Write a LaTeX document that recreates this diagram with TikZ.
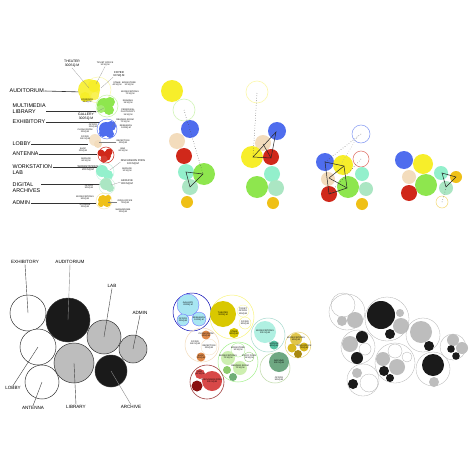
\documentclass[tikz,border=0pt]{standalone}
\usepackage{fontspec}
\setmainfont{Liberation Sans}
\usetikzlibrary{positioning}
\definecolor{cyel}{HTML}{F7EE2A}
\definecolor{cgrn}{HTML}{8EE64E}
\definecolor{cblu}{HTML}{4F6DEE}
\definecolor{cpch}{HTML}{F3DCBC}
\definecolor{cred}{HTML}{D0281A}
\definecolor{cmnt}{HTML}{93F0CC}
\definecolor{clmn}{HTML}{ABE6C3}
\definecolor{corg}{HTML}{EFC016}
\definecolor{ccyan}{HTML}{A8E6F2}
\definecolor{colive}{HTML}{D9C800}
\definecolor{corange}{HTML}{E08A4A}
\definecolor{caqua}{HTML}{B0F0E2}
\definecolor{cteal}{HTML}{58C4A4}
\definecolor{clgrn}{HTML}{CDEFB0}
\definecolor{cmgrn}{HTML}{8CCB6A}
\definecolor{cdgrn}{HTML}{4E9A55}
\definecolor{carch}{HTML}{6FA882}
\definecolor{cmust}{HTML}{D8B820}
\definecolor{cdmust}{HTML}{A88810}
\definecolor{cdisc}{HTML}{D84848}
\definecolor{cdred}{HTML}{8A1010}
\definecolor{cgray}{HTML}{BDBDBD}
\definecolor{cblack}{HTML}{1A1A1A}
\def\bubble[#1](#2)(#3){\fill[#1] (#2) circle (#3pt);}% [fill] (centre) (radius)
\def\ring[#1](#2)(#3){\draw[#1] (#2) circle (#3pt);}% [draw] (centre) (radius)

\begin{document}
\begin{tikzpicture}[x=1pt,y=-1pt,line width=0.4pt,
  biglab/.style={font=\fontsize{5.4}{6}\selectfont,align=left,inner sep=0.5pt},
  midlab/.style={font=\fontsize{3.4}{3.8}\selectfont,align=center,inner sep=0.3pt},
  tinylab/.style={font=\fontsize{2.2}{2.5}\selectfont,align=center,inner sep=0.2pt},
  leader/.style={line width=0.6pt,black!80},
  thinlead/.style={line width=0.15pt,black!50},
  link/.style={line width=0.5pt,black!85},
  dots/.style={line width=0.5pt,dotted,black!70},
  bwring/.style={line width=0.3pt,black!30},
  bwcirc/.style={circle,inner sep=0pt,draw=black!80,line width=0.5pt}]
\useasboundingbox[fill=white] (0,0) rectangle (474,471);

% ---------- programme list
\node[biglab,anchor=west] (audl) at (9,91) {AUDITORIUM};
\node[biglab,anchor=west] (mmel) at (12,109) {MULTIMEDIA\\LIBRARY};
\node[biglab,anchor=west] (exhl) at (12,122) {EXHIBITORY};
\node[biglab,anchor=west] (lobl) at (12,144) {LOBBY};
\node[biglab,anchor=west] (antl) at (12,154) {ANTENNA};
\node[biglab,anchor=west] (wsl) at (12,170) {WORKSTATION\\LAB};
\node[biglab,anchor=west] (digl) at (12,188) {DIGITAL\\ARCHIVES};
\node[biglab,anchor=west] (adml) at (12,203) {ADMIN};
\coordinate (audp) at (83,92);
\coordinate (mmep) at (96,111);
\coordinate (exhp) at (100,122);
\coordinate (lobp) at (88,144);
\coordinate (antp) at (97,154);
\coordinate (wsp) at (100,167);
\coordinate (digp) at (100,184);
\coordinate (admp) at (96,203);
\draw[leader] (audl.east) -- (audp);
\draw[leader] (mmel.east |- mmep) -- (mmep);
\draw[leader] (exhl.east) -- (exhp);
\draw[leader] (lobl.east) -- (lobp);
\draw[leader] (antl.east) -- (antp);
\draw[leader] ([yshift=3pt]wsl.east) -- (wsp);
\draw[leader] ([yshift=4pt]digl.east) -- (digp);
\draw[leader] (adml.east) -- (admp);

% blobs
\ring[cyel!40,line width=0.5pt](98,90)(13)
\bubble[cyel!90](89,90)(11)
\bubble[cyel](94,86)(6)
\bubble[cyel](85,97)(5)
\bubble[cyel!80](95,96)(4)
\ring[cgrn!50,line width=0.5pt](107,106)(11)
\bubble[cgrn](104,105)(7)
\bubble[cgrn](110,102)(5)
\bubble[cgrn](109,110)(5)
\bubble[cgrn!80](101,109)(4)
\ring[cblu,line width=0.4pt](107,129)(10)
\bubble[cblu](106,129)(7)
\bubble[cblu](111,126)(5)
\bubble[cblu](103,133)(4)
\bubble[cblu](110,134)(4)
\bubble[cpch!80](95,140)(6)
\bubble[cpch](98,144)(4)
\ring[cred,line width=0.5pt](106,155)(8)
\bubble[cred](106,156)(5)
\bubble[cred](101,153)(3.5)
\bubble[cred](109,152)(3.5)
\bubble[cred!90](104,159)(3.5)
\ring[cmnt!60,line width=0.4pt](105,172)(9)
\bubble[cmnt](102,171)(6)
\bubble[cmnt](108,175)(5)
\ring[clmn!60,line width=0.4pt](107,186)(8)
\bubble[clmn](106,184)(6)
\bubble[clmn](110,188)(4)
\ring[corg!40,line width=0.4pt](104,201)(8)
\bubble[corg](103,200)(5)
\bubble[corg](107,203)(4)
\bubble[corg](101,204)(3)
\bubble[corg](108,198)(3)

% area labels
\node[midlab] (theat) at (72,64) {THEATER\\300SQ.M};
\node[midlab] (gall) at (86,117) {GALLERY\\300SQ.M};
\node[tinylab] (tick) at (105,64) {TICKET OFFICE\\10 SQ.M};
\node[tinylab,font=\fontsize{2.8}{3.1}\selectfont] (foy) at (119,74) {FOYER\\90 SQ.M};
\node[tinylab] (stag) at (117,84) {STAGE\\40 SQ.M};
\node[tinylab] (book) at (129,84) {BOOKSTORE\\10 SQ.M};
\node[tinylab] (wsa) at (130,93) {WORKSTATIONS\\70 SQ.M};
\node[tinylab] (corr) at (87,101) {CORRIDOR\\30 SQ.M};
\node[tinylab] (read) at (128,102) {READING\\15 SQ.M};
\node[tinylab] (peri) at (128,112) {PERIODICAL\\PHOTOCOPY\\15 SQ.M};
\node[tinylab] (offa) at (93,126) {OFFICE\\20SQ.M};
\node[tinylab] (rroom) at (125,121) {READING ROOM\\70 SQ.M};
\node[tinylab] (rese) at (126,127) {RESEARCH\\100SQ.M};
\node[tinylab] (cloak) at (85,131) {CLOAK ROOM\\20SQ.M};
\node[tinylab] (foyb) at (85,138) {FOYER\\160 SQ.M};
\node[tinylab] (shop) at (83,150) {SHOP\\20SQ.M};
\node[tinylab] (recp) at (123,142) {RECEPTION\\20SQ.M};
\node[tinylab] (bar) at (123,150) {BAR\\80 SQ.M};
\node[tinylab] (serva) at (86,160) {SERVICE\\80 SQ.M};
\node[tinylab,font=\fontsize{2.6}{2.9}\selectfont] (wsb) at (88,168) {WORKSTATIONS\\200 SQ.M};
\node[tinylab,font=\fontsize{2.6}{2.9}\selectfont] (disc) at (133,162) {DISCUSSION PODS\\100 SQ.M};
\node[tinylab] (servb) at (127,170) {SERVICE\\10 SQ.M};
\node[tinylab,font=\fontsize{2.6}{2.9}\selectfont] (arch) at (127,182) {ARCHIVE\\300 SQ.M};
\node[tinylab] (offb) at (89,187) {OFFICE\\50SQ.M};
\node[tinylab] (wsc) at (85,198) {WORKSTATIONS\\50SQ.M};
\node[tinylab] (stor) at (85,206) {STORAGE\\20SQ.M};
\node[tinylab] (open) at (125,202) {OPEN OFFICE\\70SQ.M};
\node[tinylab] (wash) at (123,211) {WASHROOMS\\20SQ.M};
\draw[thinlead] (theat.south) -- (89,88);
\draw[thinlead] (tick.south) -- (96,84);
\draw[thinlead] (foy.south west) -- (101,88);
\draw[thinlead] (gall.north east) -- (104,108);
\draw[thinlead] (rroom.west) -- (112,127);
\draw[thinlead] (recp.west) -- (99,142);
\draw[thinlead] (disc.west) -- (110,170);
\draw[thinlead] (arch.west) -- (111,185);
\draw[thinlead] (open.west) -- (108,202);

% ---------- adjacency study 1
\bubble[cyel](172,91)(11)
\ring[cgrn!40,line width=0.6pt](184,110)(11)
\bubble[cblu](190,129)(9)
\bubble[cpch](177,141)(8)
\bubble[cred](184,156)(8)
\bubble[cmnt](186,172)(8)
\bubble[cgrn](204,174)(11)
\bubble[clmn](190,187)(8)
\bubble[corg](187,202)(6)
\draw[dots] (184,110) -- (203,174);
\draw[link] (186,172) -- (203,174) -- (190,187) -- cycle;

% ---------- adjacency study 2
\ring[cyel!40,line width=0.6pt](257,92)(11)
\bubble[cblu](277,131)(9)
\bubble[cpch](263,143)(8)
\bubble[cyel](252,157)(11)
\bubble[cred](271,157)(8)
\bubble[cmnt](272,174)(8)
\bubble[cgrn](257,187)(11)
\bubble[clmn](276,188)(8)
\bubble[corg](273,203)(6)
\draw[dots] (257,93) -- (253,157);
\draw[link] (253,157) -- (276,132) -- (271,158) -- cycle;
\draw[link] (263,144) -- (271,158);

% ---------- adjacency study 3
\ring[cblu!70,line width=0.5pt](361,134)(9)
\ring[cred!70,line width=0.5pt](361,159)(8)
\bubble[cblu](325,162)(9)
\bubble[cyel](343,165)(10)
\bubble[cpch](328,179)(7)
\bubble[cmnt](362,174)(7)
\bubble[cgrn](348,187)(11)
\bubble[clmn](366,189)(7)
\bubble[cred](329,194)(8)
\bubble[corg](362,204)(6)
\draw[dots] (361,134) -- (325,162);
\draw[dots] (361,159) -- (330,193);
\draw[dots,black!35] (358,136) -- (340,166);
\draw[link] (325,162) -- (344,166) -- (347,188) -- (329,194) -- cycle;
\draw[link] (329,178) -- (344,166);
\draw[link] (329,178) -- (347,188);

% ---------- adjacency study 4
\bubble[cblu](404,160)(9)
\bubble[cyel](423,164)(10)
\bubble[cpch](409,177)(7)
\bubble[cmnt](441,173)(7)
\bubble[corg](456,177)(6)
\bubble[cgrn](426,185)(11)
\bubble[clmn](446,188)(7)
\bubble[cred](409,193)(8)
\ring[corg!60,line width=0.5pt](442,202)(6)
\draw[dots] (442,202) -- (446,188);
\draw[link] (442,173) -- (456,177) -- (446,187) -- cycle;

% ---------- bubble diagram
\node[bwcirc,minimum size=36pt,fill=white] (exh) at (28,313) {};
\node[bwcirc,minimum size=44pt,fill=cblack] (aud) at (68,320) {};
\node[bwcirc,minimum size=36pt,fill=white] (lob) at (38,347) {};
\node[bwcirc,minimum size=40pt,fill=cgray] (lib) at (74,363) {};
\node[bwcirc,minimum size=34pt,fill=cgray] (lab) at (104,337) {};
\node[bwcirc,minimum size=28pt,fill=cgray] (adm) at (133,349) {};
\node[bwcirc,minimum size=32pt,fill=cblack] (arc) at (111,371) {};
\node[bwcirc,minimum size=34pt,fill=white] (ant) at (42,382) {};
\node[biglab,font=\fontsize{4.6}{5}\selectfont] (exht) at (25,262) {EXHIBITORY};
\node[biglab,font=\fontsize{4.6}{5}\selectfont] (audt) at (70,262) {AUDITORIUM};
\node[biglab,font=\fontsize{4.6}{5}\selectfont] (labt) at (112,286) {LAB};
\node[biglab,font=\fontsize{4.6}{5}\selectfont] (admt) at (140,313) {ADMIN};
\node[biglab,font=\fontsize{4.6}{5}\selectfont] (lobt) at (13,388) {LOBBY};
\node[biglab,font=\fontsize{4.6}{5}\selectfont] (antt) at (33,408) {ANTENNA};
\node[biglab,font=\fontsize{4.6}{5}\selectfont] (libt) at (76,407) {LIBRARY};
\node[biglab,font=\fontsize{4.6}{5}\selectfont] (arct) at (131,407) {ARCHIVE};
\draw[line width=0.4pt,black!75] (exht.south) -- (exh.center);
\draw[line width=0.4pt,black!45] (audt.south) -- (aud.center);
\draw[line width=0.4pt,black!75] (labt.south) -- (lab.center);
\draw[line width=0.4pt,black!75] (admt.south) -- (adm.center);
\draw[line width=0.4pt,black!75] (lobt.north) -- (lob.center);
\draw[line width=0.4pt,black!75] (antt.north) -- (ant.center);
\draw[line width=0.4pt,black!75] (libt.north) -- (lib.center);
\draw[line width=0.4pt,black!45] (arct.north) -- (arc.center);

% ---------- coloured cluster plan
\ring[blue!70!black,line width=0.5pt](192,312)(19)
\bubble[ccyan](188,305)(11)
\ring[blue!60,line width=0.3pt](188,305)(11)
\bubble[ccyan](183,320)(6)
\ring[blue!60,line width=0.3pt](183,320)(6)
\bubble[ccyan](199,319)(7)
\ring[blue!60,line width=0.3pt](199,319)(7)
\ring[cyel!60,line width=0.5pt](232,317)(22)
\bubble[colive](223,314)(13)
\bubble[colive](234,333)(5)
\ring[cyel!70,line width=0.3pt](245,323)(6)
\ring[cyel!50,line width=0.3pt](243,311)(6)
\ring[cpch,line width=0.5pt](202,345)(17)
\bubble[corange](206,335)(4.5)
\ring[cpch,line width=0.3pt](209,347)(8)
\bubble[corange](201,357)(4.5)
\ring[caqua!80!gray,line width=0.5pt](268,335)(17)
\bubble[caqua](265,332)(11)
\bubble[cteal](274,345)(4.5)
\ring[clgrn!80!green,line width=0.5pt](238,362)(20)
\ring[clgrn!80!green,line width=0.3pt](238,350)(7)
\bubble[clgrn](228,358)(7)
\ring[cmgrn,line width=0.3pt](249,357)(5)
\bubble[clgrn](240,368)(7)
\bubble[cmgrn](227,370)(4)
\bubble[cdgrn!80](233,377)(4)
\ring[clgrn!80!gray,line width=0.5pt](275,368)(15)
\bubble[carch](279,362)(10)
\ring[cmust!60,line width=0.5pt](298,345)(13)
\bubble[cmust!80](296,339)(6)
\bubble[cmust](292,348)(4.5)
\bubble[cdmust](298,354)(4)
\bubble[cmust](304,347)(4.5)
\ring[cdred!80,line width=0.6pt](207,382)(17)
\bubble[cdisc](200,374)(5)
\bubble[cdisc](212,381)(10)
\bubble[cdred](197,386)(5.5)
\node[tinylab] (pgal) at (188,304) {GALLERY\\200SQ.M};
\node[tinylab] (poff) at (183,320) {OFFICE\\20SQ.M};
\node[tinylab] (pres) at (199,319) {RESEARCH\\100SQ.M};
\node[tinylab] (pthe) at (223,314) {THEATER\\300SQ.M};
\node[tinylab] (ptic) at (243,311) {TICKET\\OFFICE\\10SQ.M};
\node[tinylab] (pfoy) at (245,323) {FOYER\\90SQ.M};
\node[tinylab] (pstg) at (234,333) {STAGE\\40SQ.M};
\node[tinylab] (pclk) at (206,335) {CLOAK ROOM\\20SQ.M};
\node[tinylab] (pfyb) at (195,343) {FOYER\\160 SQ.M};
\node[tinylab] (prec) at (209,347) {RECEPTION\\20SQ.M};
\node[tinylab] (pshp) at (201,357) {SHOP\\20SQ.M};
\node[tinylab] (pwsb) at (265,332) {WORKSTATIONS\\200 SQ.M};
\node[tinylab] (psrv) at (274,345) {SERVICE\\80SQ.M};
\node[tinylab] (pbok) at (238,349) {BOOKSTORE\\10 SQ.M};
\node[tinylab] (pwsa) at (228,357) {WORKSTATIONS\\70 SQ.M};
\node[tinylab] (pstd) at (249,357) {STUDY PODS\\15 SQ.M};
\node[tinylab] (prdr) at (240,367) {READING ROOM\\70 SQ.M};
\node[tinylab] (parc) at (279,362) {ARCHIVE\\300 SQ.M};
\node[tinylab] (pofb) at (279,379) {OFFICE\\50SQ.M};
\node[tinylab] (pwsc) at (296,339) {WORKSTATIONS\\50SQ.M};
\node[tinylab] (popn) at (304,347) {OPEN OFFICE\\70SQ.M};
\node[tinylab] (pbar) at (200,373) {BAR\\80 SQ.M};
\node[tinylab] (pdis) at (212,381) {DISCUSSION PODS\\100 SQ.M};

% ---------- grey cluster plan
\ring[bwring](347,312)(18)
\ring[bwring](343,305)(12)
\bubble[cgray](342,321)(5)
\bubble[cgray](355,320)(8)
\ring[bwring](387,319)(22)
\bubble[cblack](381,315)(14)
\bubble[cgray](400,313)(4)
\bubble[cgray](401,326)(8)
\bubble[cblack](390,334)(5)
\ring[bwring](423,335)(17)
\bubble[cgray](421,332)(11)
\bubble[cblack](429,346)(5)
\ring[bwring](453,347)(13)
\bubble[cgray](453,340)(6)
\bubble[cgray](462,348)(6)
\bubble[cblack](451,349)(3.8)
\bubble[cblack](456,356)(3.8)
\ring[bwring](358,347)(17)
\bubble[cblack](362,337)(6)
\bubble[cgray](350,344)(8)
\ring[bwring](365,349)(6)
\bubble[cblack](357,358)(6)
\ring[bwring](395,363)(20)
\ring[bwring](395,351)(7)
\ring[bwring](407,357)(5)
\bubble[cgray](383,359)(7)
\bubble[cgray](397,367)(8)
\bubble[cblack](384,371)(5)
\bubble[cblack](390,378)(4)
\ring[bwring](433,369)(17)
\bubble[cblack](433,365)(11)
\bubble[cgray](434,382)(5)
\ring[bwring](363,380)(16)
\bubble[cgray](357,373)(5)
\bubble[cblack](353,384)(5)
\ring[bwring](369,383)(9)
\end{tikzpicture}
\end{document}
